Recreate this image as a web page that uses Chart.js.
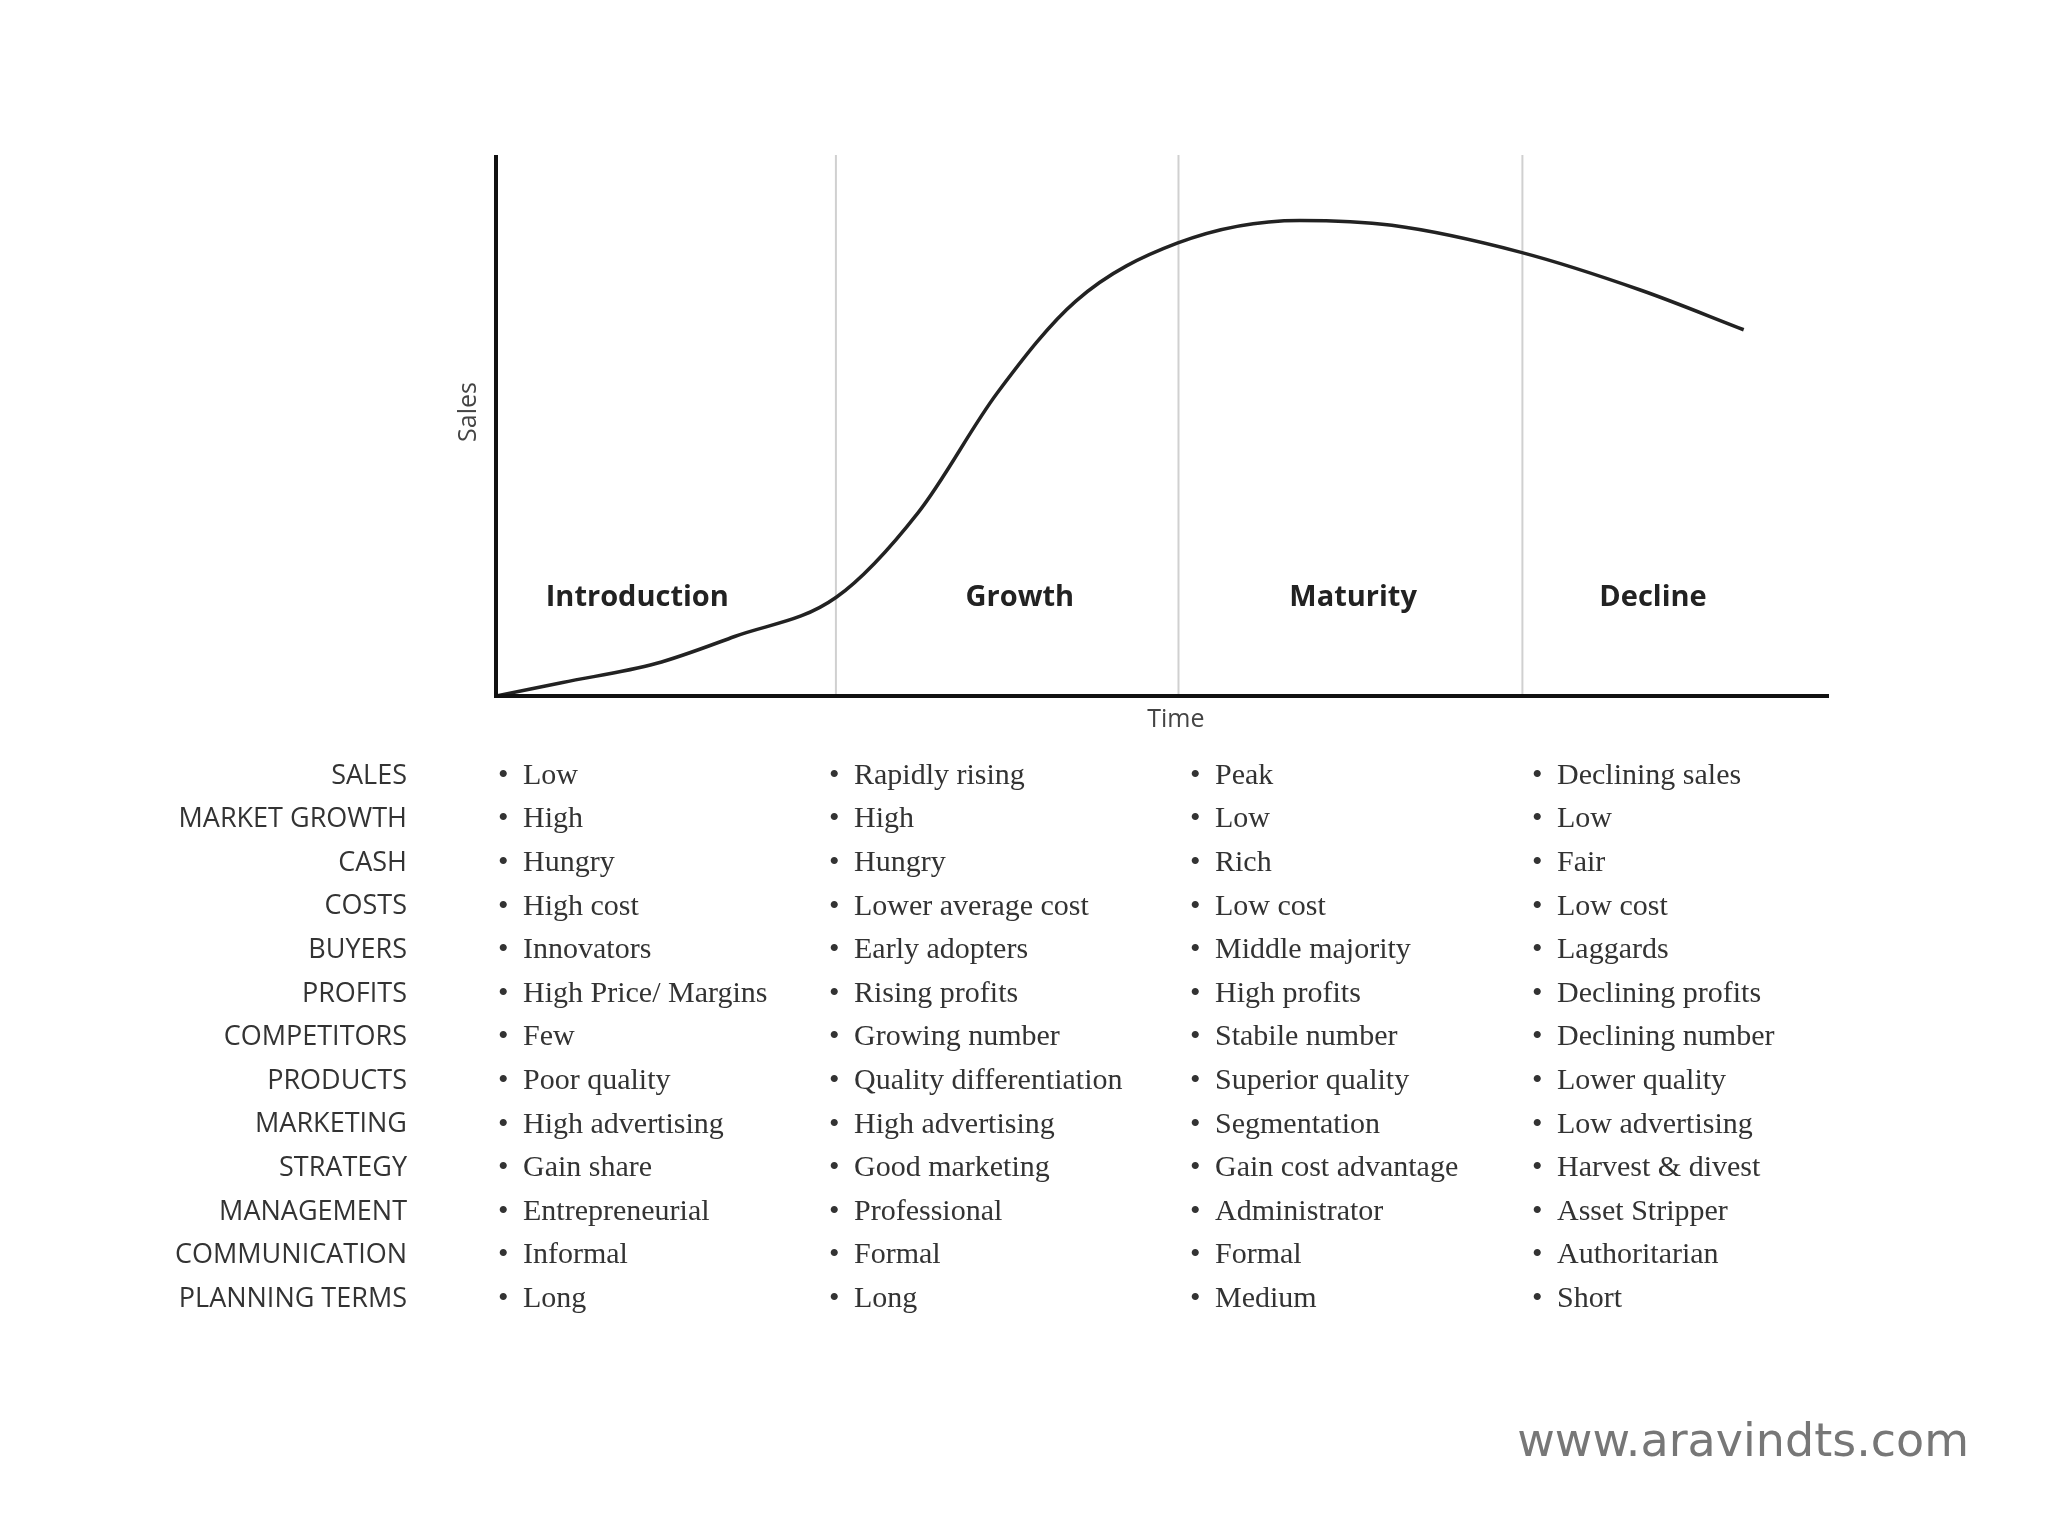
<!DOCTYPE html>
<html><head><meta charset="utf-8">
<script src="https://cdn.jsdelivr.net/npm/chart.js@4/dist/chart.umd.min.js"></script>
<style>html,body{margin:0;padding:0;background:#fff}#w{width:2048px;height:1536px}</style>
</head><body><div id="w"><canvas id="c"></canvas></div>
<script>
const timeX = [0, 5, 12, 17.9, 25.5, 31.7, 37.6, 43.5, 51.1, 60.3, 67.2, 76.9, 85.9, 93.6];
const salesY = [0, 2.5, 6, 11, 18.2, 34, 56, 73, 83.7, 87.9, 87, 82, 75, 67.7];
const dividers = [25.5, 51.2, 77];
const phases = ['Introduction', 'Growth', 'Maturity', 'Decline'];
const phaseX = [10.6, 39.3, 64.3, 86.8];
const rowLabels = ['SALES','MARKET GROWTH','CASH','COSTS','BUYERS','PROFITS','COMPETITORS','PRODUCTS','MARKETING','STRATEGY','MANAGEMENT','COMMUNICATION','PLANNING TERMS'];
const colIntro = ['Low','High','Hungry','High cost','Innovators','High Price/ Margins','Few','Poor quality','High advertising','Gain share','Entrepreneurial','Informal','Long'];
const colGrowth = ['Rapidly rising','High','Hungry','Lower average cost','Early adopters','Rising profits','Growing number','Quality differentiation','High advertising','Good marketing','Professional','Formal','Long'];
const colMaturity = ['Peak','Low','Rich','Low cost','Middle majority','High profits','Stabile number','Superior quality','Segmentation','Gain cost advantage','Administrator','Formal','Medium'];
const colDecline = ['Declining sales','Low','Fair','Low cost','Laggards','Declining profits','Declining number','Lower quality','Low advertising','Harvest & divest','Asset Stripper','Authoritarian','Short'];

const datasets = [{
  data: timeX.map((x,i)=>({x, y: salesY[i]})),
  showLine: true, borderColor: '#222', borderWidth: 3.5, pointRadius: 0,
  cubicInterpolationMode: 'monotone', order: 0
}];
dividers.forEach(d => datasets.push({
  data: [{x:d,y:0},{x:d,y:100}], showLine:true, borderColor:'#d0d0d0', borderWidth:2, pointRadius:0, order: 1
}));

const textPlugin = {
  id: 'texts',
  afterDraw(chart) {
    const ctx = chart.ctx, xs = chart.scales.x, ys = chart.scales.y, a = chart.chartArea;
    ctx.save();
    // axes
    ctx.strokeStyle = '#111'; ctx.lineWidth = 4;
    ctx.beginPath(); ctx.moveTo(a.left, a.top); ctx.lineTo(a.left, a.bottom); ctx.lineTo(a.right, a.bottom); ctx.stroke();
    ctx.fillStyle = '#222';
    ctx.font = 'bold 29px "Open Sans", sans-serif'; ctx.textAlign='center'; ctx.textBaseline='middle';
    phases.forEach((p,i)=>ctx.fillText(p, xs.getPixelForValue(phaseX[i]), ys.getPixelForValue(18.2)));
    ctx.font = '25px "Open Sans", sans-serif'; ctx.fillStyle='#444';
    ctx.fillText('Time', xs.getPixelForValue(51), a.bottom + 24);
    ctx.save(); ctx.translate(a.left - 27, ys.getPixelForValue(52.5)); ctx.rotate(-Math.PI/2);
    ctx.fillText('Sales', 0, 0); ctx.restore();
    // table
    const y0 = 776, dy = 43.6;
    ctx.font = '27px "Open Sans", sans-serif'; ctx.fillStyle='#333'; ctx.textAlign='right';
    rowLabels.forEach((r,i)=>ctx.fillText(r, 407, y0 + i*dy));
    const cols = [colIntro, colGrowth, colMaturity, colDecline];
    const bx = [498, 829, 1190, 1532];
    ctx.textAlign='left';
    cols.forEach((col,c)=>col.forEach((t,i)=>{
      ctx.font = '30px "Liberation Serif", serif'; ctx.fillStyle='#333';
      ctx.fillText('•', bx[c], y0 + i*dy);
      ctx.fillText(t, bx[c] + 25, y0 + i*dy);
    }));
    ctx.font = '46px "DejaVu Sans", sans-serif'; ctx.fillStyle='#777'; ctx.textAlign='right';
    ctx.fillText('www.aravindts.com', 1969, 1444);
    ctx.restore();
  }
};

new Chart(document.getElementById('c'), {
  type: 'scatter',
  data: { datasets },
  options: {
    responsive: true, maintainAspectRatio: false, animation: false,
    layout: { padding: { left: 496, right: 219, top: 155, bottom: 840 } },
    plugins: { legend: {display:false}, tooltip:{enabled:false} },
    scales: {
      x: { type:'linear', min:0, max:100, display:false },
      y: { type:'linear', min:0, max:100, display:false }
    }
  },
  plugins: [textPlugin]
});
</script></body></html>
